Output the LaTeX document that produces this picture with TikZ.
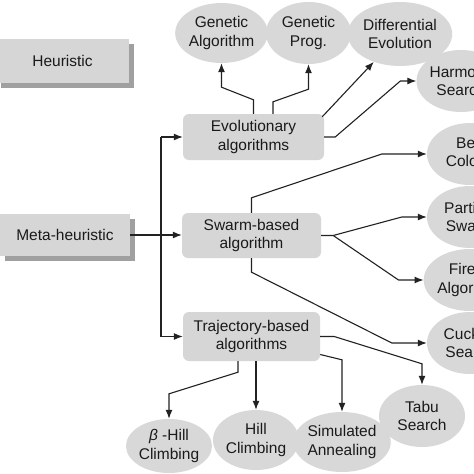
\documentclass[tikz,border=0pt]{standalone}
\usepackage{fontspec}
\setmainfont{Liberation Sans}
\usetikzlibrary{arrows.meta,shapes.geometric,shadows,calc}
\definecolor{boxfill}{HTML}{D6D6D6}
\definecolor{ellfill}{HTML}{D8D8D8}
\definecolor{shadowc}{HTML}{A0A0A0}
\definecolor{txt}{HTML}{1A1A1A}
\definecolor{lnc}{HTML}{222222}
\begin{document}
\begin{tikzpicture}[x=1pt,y=-1pt,
  font=\fontsize{15.5}{18.5}\selectfont, text=txt,
  catbox/.style={rectangle, fill=boxfill, draw=none, inner sep=0pt,
    drop shadow={shadow xshift=5pt, shadow yshift=-5pt, fill=shadowc, opacity=1}},
  algbox/.style={rectangle, rounded corners=6pt, fill=boxfill, inner sep=0pt, align=center},
  alg/.style={ellipse, fill=ellfill, inner sep=0pt, align=center},
  ln/.style={draw=lnc, line width=1.1pt},
  arr/.style={draw=lnc, line width=1.1pt, -{Latex[length=9pt,width=7pt]}}]
\useasboundingbox (0,0) rectangle (474,474);
\fill[white] (0,0) rectangle (474,474);
\clip (0,0) rectangle (474,474);

% category boxes
\node[catbox, minimum width=133pt, minimum height=44pt] (heur) at (62.5,61) {Heuristic};
\node[catbox, minimum width=130pt, minimum height=42pt] (meta) at (65,235) {Meta-heuristic};

% algorithm families
\node[algbox, minimum width=141pt, minimum height=46pt] (evo) at (253.5,137) {Evolutionary\\algorithms};
\node[algbox, minimum width=139pt, minimum height=45pt] (swarm) at (251.5,235.5) {Swarm-based\\algorithm};
\node[algbox, minimum width=137pt, minimum height=49pt] (traj) at (251.5,336.5) {Trajectory-based\\algorithms};

% algorithms
\node[alg, minimum width=86pt, minimum height=60pt] (ga) at (221.5,33) {Genetic\\Algorithm};
\node[alg, minimum width=85pt, minimum height=62pt] (gp) at (308.5,33) {Genetic\\Prog.};
\node[alg, minimum width=95pt, minimum height=64pt] (de) at (400,34) {Differential\\Evolution};
\node[alg, minimum width=86pt, minimum height=62pt] (hs) at (461,81) {Harmony\\Search};
\node[alg, minimum width=86pt, minimum height=62pt] (bee) at (470,154) {Bee\\Colony};
\node[alg, minimum width=86pt, minimum height=62pt] (ps) at (470,217) {Particle\\Swarm};
\node[alg, minimum width=86pt, minimum height=62pt] (ff) at (470,280) {Firefly\\Algorithm};
\node[alg, minimum width=86pt, minimum height=62pt] (cs) at (470,343) {Cuckoo\\Search};
\node[alg, minimum width=86pt, minimum height=54pt] (bh) at (169,446) {\textit{β} -Hill\\Climbing};
\node[alg, minimum width=86pt, minimum height=60pt] (hc) at (256,440) {Hill\\Climbing};
\node[alg, minimum width=86pt, minimum height=60pt] (sa) at (342,442) {Simulated\\Annealing};
\node[alg, minimum width=86pt, minimum height=62pt] (tabu) at (422,416) {Tabu\\Search};

% trunk from meta-heuristic
\coordinate (tk) at (161,0);
\draw[arr] (meta.east) -- (meta.east -| swarm.west);
\draw[ln] (tk |- evo.west) -- (tk |- traj.west);
\draw[arr] (tk |- evo.west) -- (evo.west);
\draw[arr] (tk |- traj.west) -- (traj.west);

% evolutionary
\draw[arr] (evo.north) -- ++(0,-14) -- ($(ga.south)+(0,24)$) -- (ga.south);
\draw[arr] ([xshift=19.5pt]evo.north) -- ++(0,-12) -- ($(gp.south)+(0,25)$) -- (gp.south);
\draw[arr] ([shift={(-2pt,-3pt)}]evo.north east) -- (de);
\draw[arr] (evo.east) -- ++(11,0) -- ($(hs.west)+(-16,0)$) -- (hs.west);

% swarm
\draw[arr] (swarm.north) -- ++(0,-15) -- ($(bee.west)+(-45,0)$) -- (bee.west);
\draw[arr] (swarm.east) -- ++(12,0) coordinate (sp) -- ($(ps.west)+(-25,0)$) -- (ps.west);
\draw[arr] (sp) -- ($(ff.west)+(-25,0)$) -- (ff.west);
\draw[arr] (swarm.south) -- ++(0,14) -- ($(cs.west)+(-35,0)$) -- (cs.west);

% trajectory
\draw[arr] (traj.east) -- ++(14,0) -- ($(tabu.north)+(0,-21)$) -- (tabu.north);
\draw[arr] ([yshift=-18pt]traj.east) -- ($(sa.north)+(0,-52)$) -- (sa.north);
\draw[arr] (traj.south -| hc.north) -- (hc.north);
\draw[arr] ([xshift=-13.5pt]traj.south) -- ++(0,11) -- ($(bh.north)+(0,-25)$) -- (bh.north);
\end{tikzpicture}
\end{document}
